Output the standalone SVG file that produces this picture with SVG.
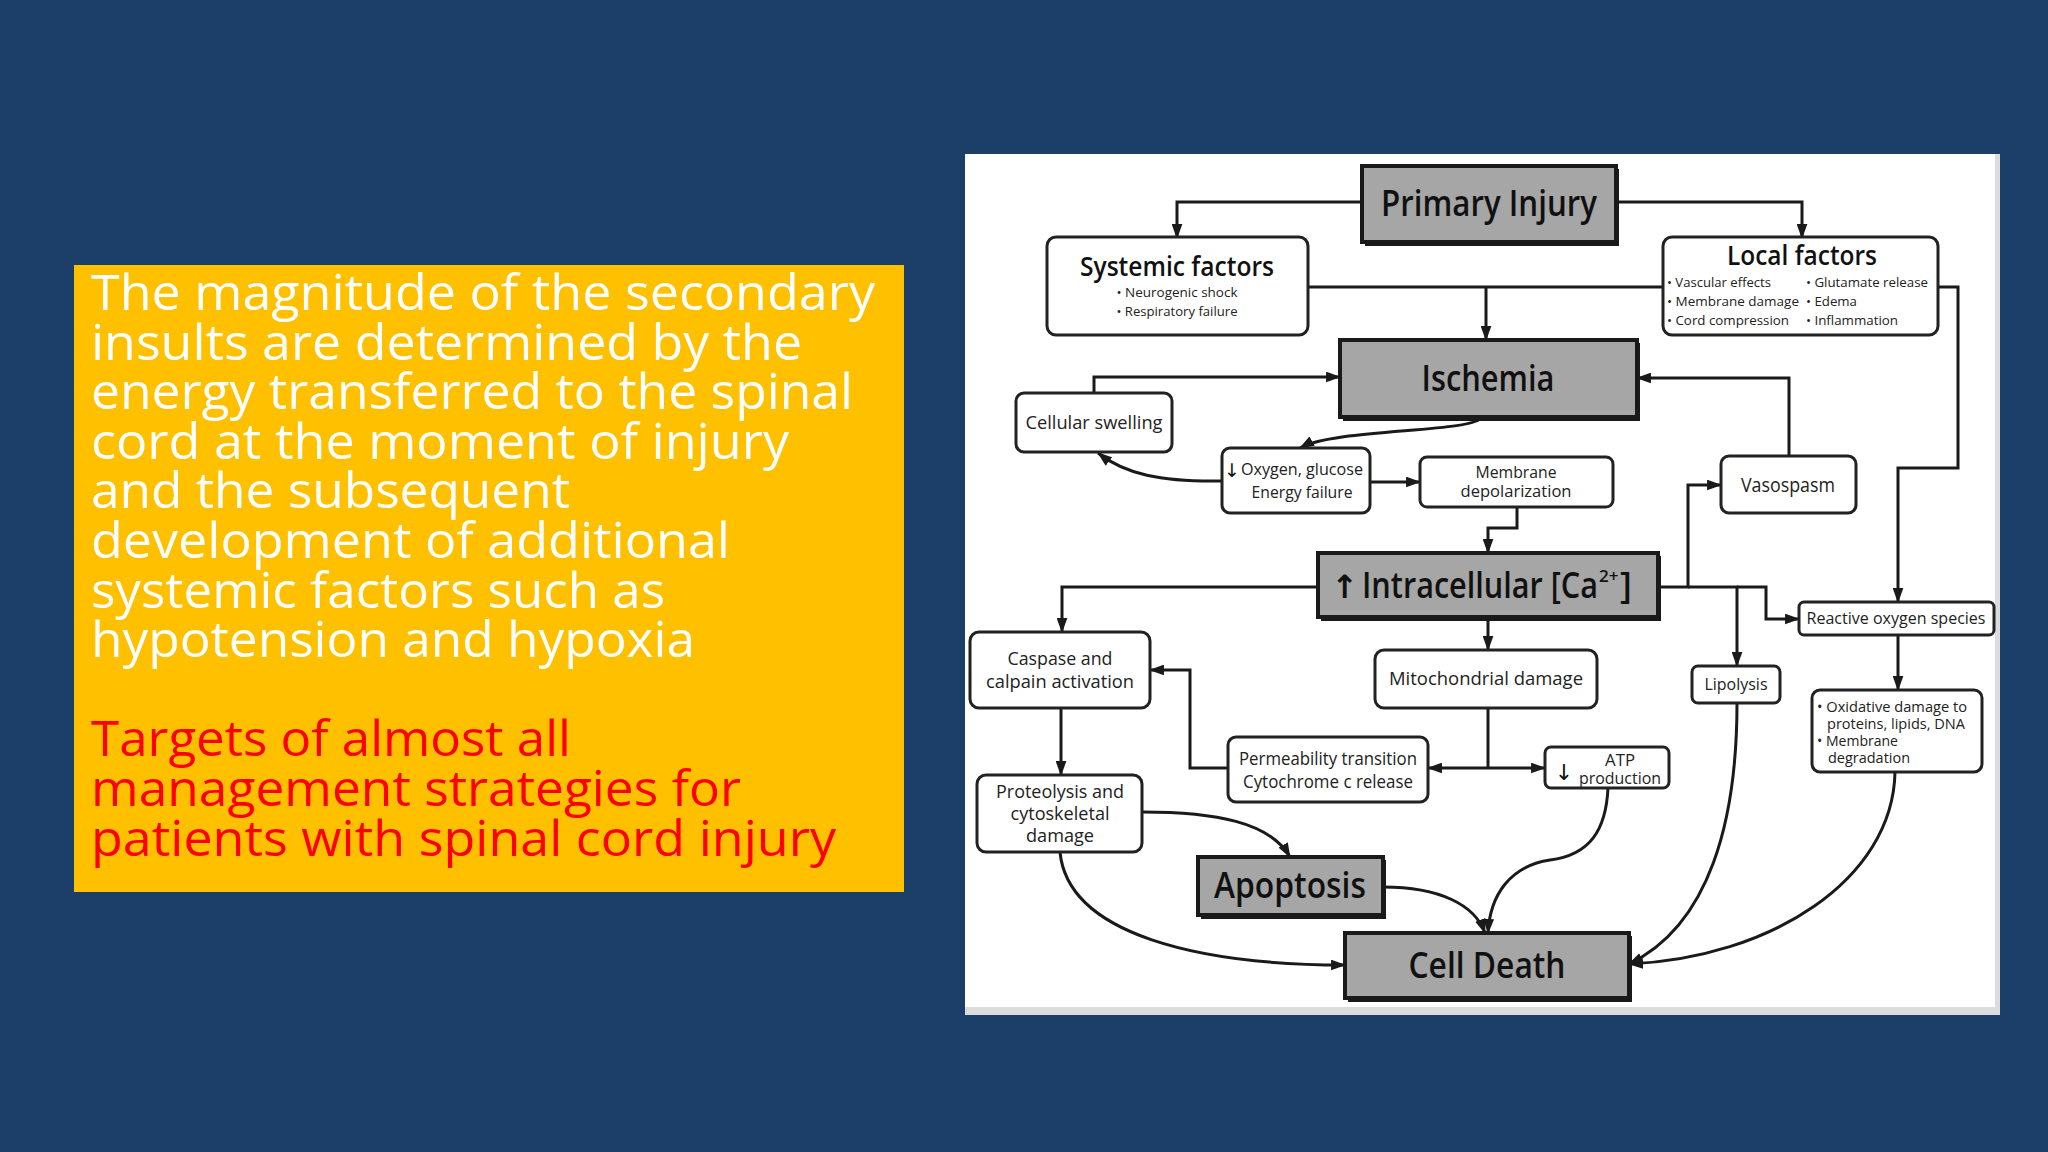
<svg xmlns="http://www.w3.org/2000/svg" width="2048" height="1152" viewBox="0 0 2048 1152">
<defs>
<marker id="ah" viewBox="0 0 14 10" refX="13" refY="5" markerWidth="15" markerHeight="11" markerUnits="userSpaceOnUse" orient="auto">
<path d="M0,0 L14,5 L0,10 z" fill="#1a1a1a"/>
</marker>
<style>
.txt{font-family:"Open Sans","Liberation Sans",sans-serif;font-size:50px}
.wh{fill:#ffffff}
.rd{fill:#ff0000}
.box{fill:#ffffff;stroke:#222;stroke-width:3}
.gbox{fill:#a6a6a6;stroke:#1a1a1a;stroke-width:4}
.shd{fill:#1a1a1a}
.lbl{font-family:"Open Sans","Liberation Sans",sans-serif;fill:#222;text-anchor:middle}
.big{font-size:36px;font-weight:600;fill:#111}
.sub{font-size:27px;font-weight:600;fill:#111}
.sm{font-size:13px}
.st{text-anchor:start}
.sym{font-family:"DejaVu Sans",sans-serif;fill:#111;text-anchor:middle}
.conn path{fill:none;stroke:#1a1a1a;stroke-width:3}
.conn .a{marker-end:url(#ah)}
</style>
</defs>
<rect x="0" y="0" width="2048" height="1152" fill="#1c3f6a"/>

<g id="textpanel">
<rect x="74" y="265" width="830" height="627" fill="#ffc000"/>
<text class="txt wh" x="91" y="310" textLength="784" lengthAdjust="spacingAndGlyphs">The magnitude of the secondary</text>
<text class="txt wh" x="91" y="359.6" textLength="711" lengthAdjust="spacingAndGlyphs">insults are determined by the</text>
<text class="txt wh" x="91" y="409.2" textLength="762" lengthAdjust="spacingAndGlyphs">energy transferred to the spinal</text>
<text class="txt wh" x="91" y="458.8" textLength="698" lengthAdjust="spacingAndGlyphs">cord at the moment of injury</text>
<text class="txt wh" x="91" y="508.4" textLength="479" lengthAdjust="spacingAndGlyphs">and the subsequent</text>
<text class="txt wh" x="91" y="558" textLength="639" lengthAdjust="spacingAndGlyphs">development of additional</text>
<text class="txt wh" x="91" y="607.6" textLength="574" lengthAdjust="spacingAndGlyphs">systemic factors such as</text>
<text class="txt wh" x="91" y="657.2" textLength="604" lengthAdjust="spacingAndGlyphs">hypotension and hypoxia</text>
<text class="txt rd" x="91" y="756.4" textLength="480" lengthAdjust="spacingAndGlyphs">Targets of almost all</text>
<text class="txt rd" x="91" y="806" textLength="650" lengthAdjust="spacingAndGlyphs">management strategies for</text>
<text class="txt rd" x="91" y="855.6" textLength="745" lengthAdjust="spacingAndGlyphs">patients with spinal cord injury</text>
</g>

<g id="diagram-panel">
<rect x="965" y="154" width="1035" height="861" fill="#dcdcdc"/>
<rect x="965" y="154" width="1030" height="853" fill="#ffffff"/>
</g>

<g class="conn" id="connectors">
<path class="a" d="M1362,202 H1177 V238"/>
<path class="a" d="M1616,202 H1802 V238"/>
<path d="M1308,287 H1663"/>
<path class="a" d="M1486,287 V340"/>
<path class="a" d="M1938,287 H1958 V468 H1898 V602"/>
<path class="a" d="M1094,393 V377 H1340"/>
<path class="a" d="M1482,417 C1475,433 1335,428 1300,448"/>
<path class="a" d="M1222,481 C1160,482 1125,474 1098,453"/>
<path class="a" d="M1370,482 H1420"/>
<path class="a" d="M1517,507 V528 H1488 V553"/>
<path class="a" d="M1789,456 V378 H1637"/>
<path class="a" d="M1318,587 H1062 V632"/>
<path class="a" d="M1488,617 V650"/>
<path class="a" d="M1658,587 H1688 V485 H1721"/>
<path class="a" d="M1688,587 H1737 V666"/>
<path class="a" d="M1737,587 H1766 V619 H1799"/>
<path d="M1488,708 V768"/>
<path class="a" d="M1488,768 H1428"/>
<path class="a" d="M1488,768 H1545"/>
<path class="a" d="M1228,768 H1190 V670 H1150"/>
<path class="a" d="M1061,708 V775"/>
<path class="a" d="M1898,635 V690"/>
<path class="a" d="M1142,812 C1215,812 1270,822 1290,857"/>
<path class="a" d="M1060,852 C1068,935 1200,965 1345,965"/>
<path class="a" d="M1383,887 C1440,887 1475,905 1485,933"/>
<path class="a" d="M1608,788 C1606,830 1590,855 1550,860 C1510,866 1490,895 1488,933"/>
<path class="a" d="M1737,703 C1737,820 1710,925 1629,964"/>
<path class="a" d="M1895,772 C1893,880 1770,958 1629,964"/>
</g>

<g id="primary-injury">
<rect class="shd" x="1365" y="169" width="254" height="77"/>
<rect class="gbox" x="1362" y="166" width="254" height="76"/>
<text class="lbl big" x="1489" y="216" textLength="216" lengthAdjust="spacingAndGlyphs">Primary Injury</text>
</g>

<g id="systemic-factors">
<rect class="box" x="1047" y="237" width="261" height="98" rx="9"/>
<text class="lbl sub" x="1177" y="276" textLength="194" lengthAdjust="spacingAndGlyphs">Systemic factors</text>
<text class="lbl sm" x="1177" y="297" textLength="121" lengthAdjust="spacingAndGlyphs">• Neurogenic shock</text>
<text class="lbl sm" x="1177" y="316" textLength="121" lengthAdjust="spacingAndGlyphs">• Respiratory failure</text>
</g>

<g id="local-factors">
<rect class="box" x="1663" y="237" width="275" height="98" rx="9"/>
<text class="lbl sub" x="1802" y="265" textLength="150" lengthAdjust="spacingAndGlyphs">Local factors</text>
<text class="lbl sm st" x="1667" y="287" textLength="104" lengthAdjust="spacingAndGlyphs">• Vascular effects</text>
<text class="lbl sm st" x="1667" y="306" textLength="132" lengthAdjust="spacingAndGlyphs">• Membrane damage</text>
<text class="lbl sm st" x="1667" y="325" textLength="122" lengthAdjust="spacingAndGlyphs">• Cord compression</text>
<text class="lbl sm st" x="1806" y="287" textLength="122" lengthAdjust="spacingAndGlyphs">• Glutamate release</text>
<text class="lbl sm st" x="1806" y="306" textLength="51" lengthAdjust="spacingAndGlyphs">• Edema</text>
<text class="lbl sm st" x="1806" y="325" textLength="92" lengthAdjust="spacingAndGlyphs">• Inflammation</text>
</g>

<g id="ischemia">
<rect class="shd" x="1343" y="343" width="297" height="78"/>
<rect class="gbox" x="1340" y="340" width="297" height="77"/>
<text class="lbl big" x="1488" y="391" textLength="133" lengthAdjust="spacingAndGlyphs">Ischemia</text>
</g>

<g id="cellular-swelling">
<rect class="box" x="1016" y="393" width="156" height="59" rx="8"/>
<text class="lbl" x="1094" y="429" font-size="19" textLength="137" lengthAdjust="spacingAndGlyphs">Cellular swelling</text>
</g>

<g id="oxygen-glucose">
<rect class="box" x="1222" y="448" width="148" height="65" rx="8"/>
<text class="sym" x="1232" y="477" font-size="19">↓</text>
<text class="lbl" x="1302" y="475" font-size="17" textLength="122" lengthAdjust="spacingAndGlyphs">Oxygen, glucose</text>
<text class="lbl" x="1302" y="498" font-size="17" textLength="101" lengthAdjust="spacingAndGlyphs">Energy failure</text>
</g>

<g id="membrane-depolarization">
<rect class="box" x="1420" y="457" width="193" height="50" rx="7"/>
<text class="lbl" x="1516" y="478" font-size="16" textLength="81" lengthAdjust="spacingAndGlyphs">Membrane</text>
<text class="lbl" x="1516" y="497" font-size="16" textLength="111" lengthAdjust="spacingAndGlyphs">depolarization</text>
</g>

<g id="vasospasm">
<rect class="box" x="1721" y="456" width="135" height="57" rx="8"/>
<text class="lbl" x="1788" y="492" font-size="20" textLength="94" lengthAdjust="spacingAndGlyphs">Vasospasm</text>
</g>

<g id="intracellular-ca">
<rect class="shd" x="1321" y="556" width="340" height="65"/>
<rect class="gbox" x="1318" y="553" width="340" height="64"/>
<text class="sym" x="1345" y="598" font-size="32" font-weight="bold">↑</text>
<text class="lbl big st" y="598"><tspan x="1362" textLength="236" lengthAdjust="spacingAndGlyphs">Intracellular [Ca</tspan><tspan x="1599" y="582" font-size="17">2+</tspan><tspan x="1620" y="598">]</tspan></text>
</g>

<g id="caspase">
<rect class="box" x="970" y="632" width="180" height="76" rx="9"/>
<text class="lbl" x="1060" y="665" font-size="19" textLength="105" lengthAdjust="spacingAndGlyphs">Caspase and</text>
<text class="lbl" x="1060" y="688" font-size="19" textLength="148" lengthAdjust="spacingAndGlyphs">calpain activation</text>
</g>

<g id="mitochondrial-damage">
<rect class="box" x="1375" y="650" width="222" height="58" rx="9"/>
<text class="lbl" x="1486" y="685" font-size="19" textLength="194" lengthAdjust="spacingAndGlyphs">Mitochondrial damage</text>
</g>

<g id="lipolysis">
<rect class="box" x="1692" y="666" width="88" height="37" rx="6"/>
<text class="lbl" x="1736" y="690" font-size="17" textLength="63" lengthAdjust="spacingAndGlyphs">Lipolysis</text>
</g>

<g id="reactive-oxygen-species">
<rect class="box" x="1799" y="602" width="195" height="33" rx="5"/>
<text class="lbl" x="1896" y="624" font-size="17" textLength="179" lengthAdjust="spacingAndGlyphs">Reactive oxygen species</text>
</g>

<g id="oxidative-damage">
<rect class="box" x="1812" y="690" width="170" height="82" rx="8"/>
<text class="lbl st" x="1817" y="712" font-size="15" textLength="150" lengthAdjust="spacingAndGlyphs">• Oxidative damage to</text>
<text class="lbl st" x="1827" y="729" font-size="15" textLength="138" lengthAdjust="spacingAndGlyphs">proteins, lipids, DNA</text>
<text class="lbl st" x="1817" y="746" font-size="15" textLength="81" lengthAdjust="spacingAndGlyphs">• Membrane</text>
<text class="lbl st" x="1828" y="763" font-size="15" textLength="82" lengthAdjust="spacingAndGlyphs">degradation</text>
</g>

<g id="permeability-transition">
<rect class="box" x="1228" y="737" width="200" height="65" rx="8"/>
<text class="lbl" x="1328" y="765" font-size="18" textLength="178" lengthAdjust="spacingAndGlyphs">Permeability transition</text>
<text class="lbl" x="1328" y="788" font-size="18" textLength="170" lengthAdjust="spacingAndGlyphs">Cytochrome c release</text>
</g>

<g id="atp-production">
<rect class="box" x="1545" y="747" width="124" height="41" rx="6"/>
<text class="sym" x="1564" y="780" font-size="22">↓</text>
<text class="lbl" x="1620" y="766" font-size="16" textLength="30" lengthAdjust="spacingAndGlyphs">ATP</text>
<text class="lbl" x="1620" y="784" font-size="16" textLength="82" lengthAdjust="spacingAndGlyphs">production</text>
</g>

<g id="proteolysis">
<rect class="box" x="977" y="775" width="165" height="77" rx="9"/>
<text class="lbl" x="1060" y="798" font-size="18" textLength="128" lengthAdjust="spacingAndGlyphs">Proteolysis and</text>
<text class="lbl" x="1060" y="820" font-size="18" textLength="99" lengthAdjust="spacingAndGlyphs">cytoskeletal</text>
<text class="lbl" x="1060" y="842" font-size="18" textLength="68" lengthAdjust="spacingAndGlyphs">damage</text>
</g>

<g id="apoptosis">
<rect class="shd" x="1201" y="860" width="185" height="59"/>
<rect class="gbox" x="1198" y="857" width="185" height="58"/>
<text class="lbl big" x="1290" y="898" textLength="152" lengthAdjust="spacingAndGlyphs">Apoptosis</text>
</g>

<g id="cell-death">
<rect class="shd" x="1348" y="936" width="284" height="66"/>
<rect class="gbox" x="1345" y="933" width="284" height="65"/>
<text class="lbl big" x="1487" y="978" textLength="157" lengthAdjust="spacingAndGlyphs">Cell Death</text>
</g>
</svg>
